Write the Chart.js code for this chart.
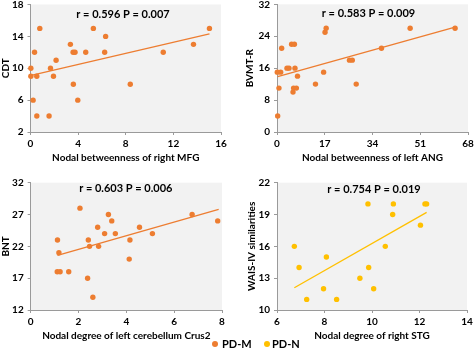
<!DOCTYPE html>
<html>
<head>
<meta charset="utf-8">
<script src="https://cdn.jsdelivr.net/npm/chart.js@4.4.1/dist/chart.umd.min.js"></script>
<style>
  html, body { margin: 0; padding: 0; background: #fff; }
  body { width: 474px; height: 349px; position: relative; overflow: hidden; font-family: Lato, sans-serif; }
  .panel { position: absolute; }
  .legend { position: absolute; top: 337px; left: 0; width: 474px; height: 14px; font: bold 11px Lato, sans-serif; color: #000; z-index: 2; }
  .legend span { position: absolute; top: 0; line-height: 14px; }
  .legend i { position: absolute; top: 4px; width: 6px; height: 6px; border-radius: 50%; }
</style>
</head>
<body>
<div class="panel" style="left:0;top:0;width:237px;height:170px"><canvas id="c_mfg"></canvas></div>
<div class="panel" style="left:237px;top:0;width:237px;height:170px"><canvas id="c_ang"></canvas></div>
<div class="panel" style="left:0;top:170px;width:237px;height:179px"><canvas id="c_crus"></canvas></div>
<div class="panel" style="left:237px;top:170px;width:237px;height:179px"><canvas id="c_stg"></canvas></div>
<div class="legend">
  <i style="left:212px;background:#ed7d31"></i><span style="left:222px">PD-M</span>
  <i style="left:264px;background:#ffc000"></i><span style="left:272px">PD-N</span>
</div>
<script>
// PD-M: CDT vs nodal betweenness of right MFG
const mfgX = [0.78, 5.28, 15.03, 6.31, 3.35, 13.69, 0.34, 3.58, 3.74, 4.64, 6.23, 11.15, 2.15, 0.03, 1.68, 0.03, 0.53, 1.93, 3.6, 8.38, 0.22, 3.97, 0.53, 1.56];
const cdtY = [15, 15, 15, 14, 13, 13, 12, 12, 12, 12, 12, 12, 11, 10, 10, 9, 9, 9, 8, 8, 6, 6, 4, 4];
const mfgFitX = [0.06, 15.03];
const mfgFitY = [9.1, 14.3];

// PD-M: BVMT-R vs nodal betweenness of left ANG
const angX = [0.24, 0.7, 0.1, 1.3, 1.66, 3.55, 4.27, 5.2, 6.2, 6.4, 7.3, 5.9, 6.9, 5.7, 13.7, 16.6, 17.1, 17.5, 25.8, 26.8, 28.2, 37.2, 47.4, 63.4];
const bvmtY = [4, 11, 15, 15, 21, 16, 16, 22, 22, 16, 14, 11, 11, 10, 12, 15, 25, 26, 18, 18, 12, 21, 26, 26];
const angFitX = [0.24, 63.4];
const angFitY = [13.9, 26.3];

// PD-M: BNT vs nodal degree of left cerebellum Crus2
const crusX = [2.06, 3.25, 6.75, 3.39, 7.82, 2.8, 4.55, 3.09, 3.54, 5.09, 1.12, 2.41, 4.15, 2.46, 2.84, 1.18, 4.12, 1.11, 1.23, 1.59, 2.38, 2.6];
const bntY = [28, 27, 27, 26, 26, 25, 25, 24, 24, 24, 23, 23, 23, 22, 22, 21, 20, 18, 18, 18, 17, 14];
const crusFitX = [1.12, 7.86];
const crusFitY = [20.6, 27.8];

// PD-N: WAIS-IV similarities vs nodal degree of right STG
const stgX = [9.83, 10.9, 12.23, 12.3, 10.87, 12.04, 6.73, 10.56, 8.08, 6.93, 9.86, 9.49, 7.96, 10.07, 7.25, 8.51];
const waisY = [20, 20, 20, 20, 19, 18, 16, 16, 15, 14, 14, 13, 12, 12, 11, 11];
const stgFitX = [6.73, 12.3];
const stgFitY = [12.1, 19.2];

const ORANGE = '#ed7d31';
const YELLOW = '#ffc000';
const AXIS = '#9a9a9a';
const FONT = 'Lato';

const $ = (id) => document.getElementById(id);
const pts = (xs, ys) => xs.map((x, i) => ({ x, y: ys[i] }));

// grey plot area + r/P label
const plotDecor = {
    id: 'plotDecor',
    beforeDraw(chart) {
        const { ctx, chartArea: a } = chart;
        ctx.save();
        ctx.fillStyle = '#f2f2f2';
        ctx.fillRect(a.left, a.top, a.right - a.left, a.bottom - a.top);
        ctx.restore();
    },
    afterDraw(chart, args, opts) {
        const { ctx } = chart;
        ctx.save();
        ctx.font = `bold 11px ${FONT}`;
        ctx.fillStyle = '#000';
        ctx.textAlign = 'center';
        ctx.textBaseline = 'middle';
        ctx.fillText(opts.text, opts.x, opts.y);
        ctx.restore();
    }
};

function makePanel(id, p) {
    const font = { family: FONT, size: 10, weight: 'bold' };
    new Chart($(id), {
        type: 'scatter',
        data: {
            datasets: [
                {
                    data: pts(p.xs, p.ys),
                    backgroundColor: p.color,
                    borderColor: p.color,
                    pointRadius: 2.7,
                    borderWidth: 0,
                    clip: false
                },
                {
                    data: pts(p.fitX, p.fitY),
                    showLine: true,
                    borderColor: p.color,
                    borderWidth: 1.3,
                    pointRadius: 0
                }
            ]
        },
        options: {
            responsive: true,
            maintainAspectRatio: false,
            animation: false,
            events: [],
            layout: { padding: { top: p.top, right: p.right, left: 0, bottom: 0 } },
            plugins: {
                legend: { display: false },
                tooltip: { enabled: false },
                plotDecor: { text: p.stat, x: p.statX, y: p.statY }
            },
            scales: {
                x: {
                    type: 'linear',
                    min: p.xMin, max: p.xMax,
                    ticks: { stepSize: p.xStep, autoSkip: false, font, color: '#000', padding: 3 },
                    grid: { drawOnChartArea: false, drawTicks: true, tickLength: 3, color: AXIS },
                    border: { color: AXIS },
                    title: { display: true, text: p.xTitle, font, color: '#000', padding: { top: 0, bottom: p.xTitlePad } },
                    afterFit: (s) => { s.height = p.xH; s.paddingLeft = 0; s.paddingRight = 0; }
                },
                y: {
                    type: 'linear',
                    min: p.yMin, max: p.yMax,
                    ticks: { stepSize: p.yStep, autoSkip: false, font, color: '#000', padding: 4 },
                    grid: { drawOnChartArea: false, drawTicks: true, tickLength: 3, color: AXIS },
                    border: { color: AXIS },
                    title: { display: true, text: p.yTitle, font, color: '#000', padding: { top: p.yTitlePad, bottom: 0 } },
                    afterFit: (s) => { s.width = p.yW; s.paddingTop = 0; s.paddingBottom = 0; }
                }
            }
        },
        plugins: [plotDecor]
    });
}

makePanel('c_mfg', {
    xs: mfgX, ys: cdtY, fitX: mfgFitX, fitY: mfgFitY, color: ORANGE,
    xMin: 0, xMax: 16, xStep: 4, yMin: 2, yMax: 18, yStep: 4,
    xTitle: 'Nodal betweenness of right MFG', yTitle: 'CDT',
    stat: 'r = 0.596 P = 0.007', statX: 123, statY: 14,
    top: 4.5, right: 16, yW: 30.5, xH: 38, xTitlePad: 6, yTitlePad: 0
});

makePanel('c_ang', {
    xs: angX, ys: bvmtY, fitX: angFitX, fitY: angFitY, color: ORANGE,
    xMin: 0, xMax: 68, xStep: 17, yMin: 0, yMax: 32, yStep: 8,
    xTitle: 'Nodal betweenness of left ANG', yTitle: 'BVMT-R',
    stat: 'r = 0.583 P = 0.009', statX: 131.5, statY: 13.3,
    top: 4.3, right: 6, yW: 40, xH: 38, xTitlePad: 6, yTitlePad: 7
});

makePanel('c_crus', {
    xs: crusX, ys: bntY, fitX: crusFitX, fitY: crusFitY, color: ORANGE,
    xMin: 0, xMax: 8, xStep: 2, yMin: 12, yMax: 32, yStep: 5,
    xTitle: 'Nodal degree of left cerebellum Crus2', yTitle: 'BNT',
    stat: 'r = 0.603 P = 0.006', statX: 125.8, statY: 18.3,
    top: 12.7, right: 15, yW: 30.7, xH: 39, xTitlePad: 7.3, yTitlePad: 0
});

makePanel('c_stg', {
    xs: stgX, ys: waisY, fitX: stgFitX, fitY: stgFitY, color: YELLOW,
    xMin: 6, xMax: 14, xStep: 2, yMin: 10, yMax: 22, yStep: 3,
    xTitle: 'Nodal degree of right STG', yTitle: 'WAIS-IV similarities',
    stat: 'r = 0.754 P = 0.019', statX: 137, statY: 19.3,
    top: 12.7, right: 7, yW: 40, xH: 39, xTitlePad: 7.3, yTitlePad: 9
});
</script>
</body>
</html>
